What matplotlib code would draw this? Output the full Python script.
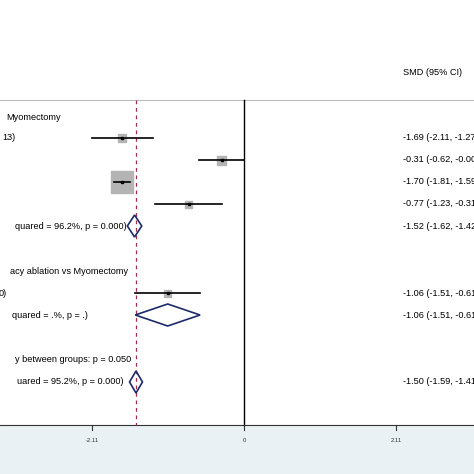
import matplotlib.pyplot as plt
from matplotlib.patches import Polygon, Rectangle

plt.rcParams['font.family'] = ['Liberation Sans', 'DejaVu Sans']

# study estimates (SMD, lower, upper)
smd = [-1.69, -0.31, -1.70, -0.77, -1.06]
lo = [-2.11, -0.62, -1.81, -1.23, -1.51]
hi = [-1.27, -0.00, -1.59, -0.31, -0.61]
box = [8, 9, 22, 7, 7]          # weight box size, px
study_y = [138, 160, 182, 204, 293]
labels = ["-1.69 (-2.11, -1.27)", "-0.31 (-0.62, -0.00)", "-1.70 (-1.81, -1.59)",
          "-0.77 (-1.23, -0.31)", "-1.06 (-1.51, -0.61)"]

# pooled diamonds
pool = [-1.52, -1.06, -1.50]
pool_lo = [-1.62, -1.51, -1.59]
pool_hi = [-1.42, -0.61, -1.41]
pool_y = [226, 315, 382]
pool_lab = ["-1.52 (-1.62, -1.42)", "-1.06 (-1.51, -0.61)", "-1.50 (-1.59, -1.41)"]

left_text = [("Myomectomy", 61, 117), ("13)", 15, 138),
             ("quared = 96.2%, p = 0.000)", 127, 226),
             ("acy ablation vs Myomectomy", 128, 272), ("0)", 7, 293),
             ("quared = .%, p = .)", 88, 315),
             ("y between groups: p = 0.050", 131, 360),
             ("uared = 95.2%, p = 0.000)", 123, 382)]

ticks = [-2.11, 0, 2.11]
ppu = 72.0  # pixels per unit
x0 = -244 / ppu
fs = 6.6

fig = plt.figure(figsize=(4.74, 4.74), dpi=100)
ax = fig.add_axes([0, 0, 1, 1])
ax.set_xlim(x0, x0 + 474 / ppu)
ax.set_ylim(474, 0)
ax.axis("off")

def px(p):
    return x0 + p / ppu

ax.add_patch(Rectangle((x0, 425), 474 / ppu, 60, color="#e9f1f5", zorder=0))
ax.plot([x0, x0 + 474 / ppu], [100, 100], color="#bbbbbb", lw=0.8)
ax.plot([x0, x0 + 474 / ppu], [425, 425], color="#333333", lw=0.8)
ax.plot([0, 0], [100, 425], color="black", lw=1)
ax.plot([pool[2]] * 2, [100, 425], color="#a0304a", lw=0.9, ls=(0, (3, 3)))

for t in ticks:
    ax.plot([t, t], [425, 430], color="#333333", lw=0.8)
    ax.text(t, 441, f"{t:g}", ha="center", va="center", fontsize=4.2, color="#333333")

ax.text(px(403), 72, "SMD (95% CI)", fontsize=fs, va="center")

for s, l, h, b, y, lab in zip(smd, lo, hi, box, study_y, labels):
    w = b / ppu
    ax.add_patch(Rectangle((s - w / 2, y - b / 2), w, b, color="#b4b4b4", zorder=2))
    ax.plot([l, h], [y, y], color="black", lw=1.2, zorder=3)
    ax.plot(s, y, "s", color="black", ms=2, zorder=4)
    ax.text(px(403), y, lab, fontsize=fs, va="center")

for p, l, h, y, lab in zip(pool, pool_lo, pool_hi, pool_y, pool_lab):
    ax.add_patch(Polygon([(l, y), (p, y - 11), (h, y), (p, y + 11)], closed=True,
                         fill=False, ec="#1d2a6b", lw=1.2, zorder=3))
    ax.text(px(403), y, lab, fontsize=fs, va="center")

for s, xe, y in left_text:
    ax.text(px(xe), y, s, ha="right", va="center", fontsize=fs)

fig.savefig("out.png", dpi=100)
